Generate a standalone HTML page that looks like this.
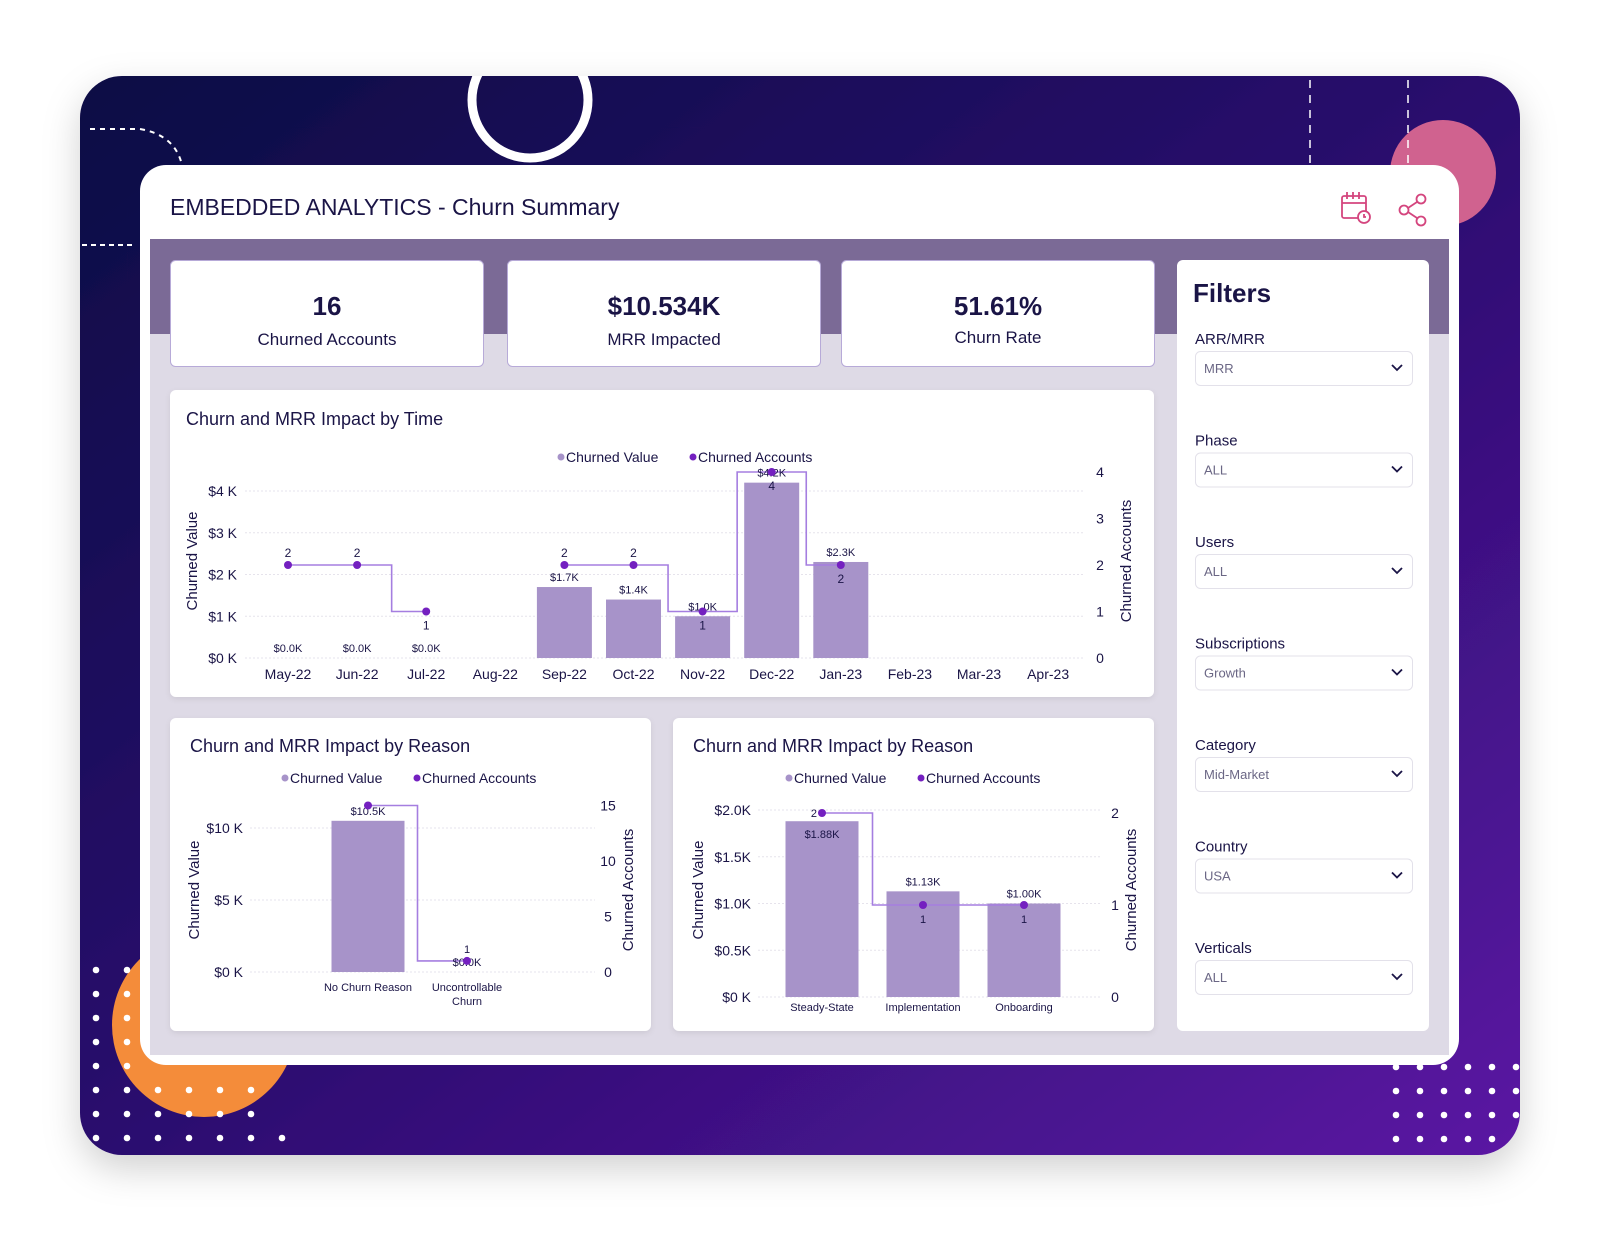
<!DOCTYPE html>
<html><head><meta charset="utf-8"><title>Churn Summary</title>
<style>
html,body{margin:0;padding:0;background:#fff;}
svg{display:block;font-family:"Liberation Sans",sans-serif;}
</style></head>
<body>
<svg id="root" width="1600" height="1240" viewBox="0 0 1600 1240" xmlns="http://www.w3.org/2000/svg">
<defs>
<linearGradient id="bg" x1="0" y1="0" x2="1" y2="1">
<stop offset="0" stop-color="#0b0744"/><stop offset="0.5" stop-color="#2a0d6e"/><stop offset="1" stop-color="#5b17a3"/>
</linearGradient>
<filter id="sh" x="-10%" y="-10%" width="120%" height="130%"><feDropShadow dx="0" dy="14" stdDeviation="18" flood-color="#000" flood-opacity="0.18"/></filter>
<filter id="sh2" x="-10%" y="-10%" width="120%" height="130%"><feDropShadow dx="0" dy="2" stdDeviation="3" flood-color="#000" flood-opacity="0.08"/></filter>
<clipPath id="bgclip"><rect x="80" y="76" width="1440" height="1079" rx="42"/></clipPath>
</defs>
<rect x="80" y="76" width="1440" height="1079" rx="42" fill="url(#bg)" filter="url(#sh)"/>
<g clip-path="url(#bgclip)">
<circle cx="204" cy="1025" r="92" fill="#f48c3a"/>
<circle cx="1443" cy="173" r="53" fill="#d0628f"/>
<circle cx="530" cy="100" r="58" fill="none" stroke="#fff" stroke-width="9"/>
<path d="M90 129 H140 Q175 135 182 165" fill="none" stroke="#fff" stroke-width="2" stroke-dasharray="5 5"/>
<path d="M82 245 H136" fill="none" stroke="#fff" stroke-width="2" stroke-dasharray="5 4"/>
<path d="M1310 80 V165 M1408 80 V165" fill="none" stroke="#fff" stroke-width="1.5" stroke-dasharray="8 7"/>
<g id="dots" fill="#fff"></g>
</g>
<rect x="140" y="165" width="1319" height="900" rx="26" fill="#fff"/>
<text x="170" y="215" font-size="23" fill="#1a1446">EMBEDDED ANALYTICS - Churn Summary</text>
<g fill="none" stroke="#d4457e" stroke-width="1.8">
<rect x="1342" y="196" width="24" height="22" rx="2"/><line x1="1342" y1="203" x2="1366" y2="203"/>
<line x1="1347" y1="192" x2="1347" y2="199"/><line x1="1353" y1="192" x2="1353" y2="199"/><line x1="1359" y1="192" x2="1359" y2="199"/>
<circle cx="1364" cy="217" r="6" fill="#fff"/><path d="M1364 214 V217 H1366"/>
</g>
<g fill="#fff" stroke="#d4457e" stroke-width="1.8">
<path d="M1420 200 L1405 210 L1420 220"/><circle cx="1421" cy="199" r="4.5"/><circle cx="1404" cy="210" r="4.5"/><circle cx="1421" cy="221" r="4.5"/>
</g>
<rect x="150" y="239" width="1299" height="816" fill="#dedae6"/>
<rect x="150" y="239" width="1299" height="95" fill="#7b6a96"/>

<g>
<rect x="170.5" y="260.5" width="313" height="106" rx="5" fill="#fff" stroke="#b7aad8"/>
<text x="327" y="315" font-size="26" font-weight="bold" fill="#1a1446" text-anchor="middle">16</text>
<text x="327" y="345" font-size="17" fill="#1a1446" text-anchor="middle">Churned Accounts</text></g>
<g>
<rect x="507.5" y="260.5" width="313" height="106" rx="5" fill="#fff" stroke="#b7aad8"/>
<text x="664" y="315" font-size="26" font-weight="bold" fill="#1a1446" text-anchor="middle">$10.534K</text>
<text x="664" y="345" font-size="17" fill="#1a1446" text-anchor="middle">MRR Impacted</text></g>
<g>
<rect x="841.5" y="260.5" width="313" height="106" rx="5" fill="#fff" stroke="#b7aad8"/>
<text x="998" y="315" font-size="26" font-weight="bold" fill="#1a1446" text-anchor="middle">51.61%</text>
<text x="998" y="343" font-size="17" fill="#1a1446" text-anchor="middle">Churn Rate</text></g>

<g id="filters">
<rect x="1177" y="260" width="252" height="771" rx="6" fill="#fff"/>
<text x="1193" y="302" font-size="26" font-weight="bold" fill="#1a1446">Filters</text>
</g>

<rect x="170" y="390" width="984" height="307" rx="6" fill="#fff" filter="url(#sh2)"/>
<text x="186" y="425" font-size="18" fill="#1a1446">Churn and MRR Impact by Time</text>
<g id="timeChart"></g>

<rect x="170" y="718" width="481" height="313" rx="6" fill="#fff" filter="url(#sh2)"/>
<text x="190" y="752" font-size="18" fill="#1a1446">Churn and MRR Impact by Reason</text>
<g id="reason1"></g>

<rect x="673" y="718" width="481" height="313" rx="6" fill="#fff" filter="url(#sh2)"/>
<text x="693" y="752" font-size="18" fill="#1a1446">Churn and MRR Impact by Reason</text>
<g id="reason2"></g>
</svg>
<script>
// ---- Time chart data ----
const timeCategories = ["May-22","Jun-22","Jul-22","Aug-22","Sep-22","Oct-22","Nov-22","Dec-22","Jan-23","Feb-23","Mar-23","Apr-23"];
const timeValues = [0,0,0,null,1.7,1.4,1.0,4.2,2.3,null,null,null];
const timeAccounts = [2,2,1,null,2,2,1,4,2,null,null,null];
const timeValueTicks = [0,1,2,3,4];
const timeValueTickLabels = ["$0 K","$1 K","$2 K","$3 K","$4 K"];
const timeAccountTicks = [0,1,2,3,4];
// ---- Reason chart 1 data ----
const reason1Categories = [["No Churn Reason"],["Uncontrollable","Churn"]];
const reason1Values = [10.5,0];
const reason1Accounts = [15,1];
const reason1ValueTicks = [0,5,10];
const reason1ValueTickLabels = ["$0 K","$5 K","$10 K"];
const reason1AccountTicks = [0,5,10,15];
// ---- Reason chart 2 data ----
const reason2Categories = [["Steady-State"],["Implementation"],["Onboarding"]];
const reason2Values = [1.88,1.13,1.00];
const reason2Accounts = [2,1,1];
const reason2ValueTicks = [0,0.5,1.0,1.5,2.0];
const reason2ValueTickLabels = ["$0 K","$0.5K","$1.0K","$1.5K","$2.0K"];
const reason2AccountTicks = [0,1,2];

const NS="http://www.w3.org/2000/svg";
function mk(parent,tag,attrs,txt){const e=document.createElementNS(NS,tag);for(const k in attrs)e.setAttribute(k,attrs[k]);if(txt!==undefined)e.textContent=txt;parent.appendChild(e);return e;}
const INK="#1a1446", BAR="#a793c9", LINE="#a57ee0", PT="#7420c0";

function drawChart(g,o){
  const xs=o.cats.map((c,i)=>o.xAt(i));
  o.vTicks.forEach((t,i)=>{
    const y=o.yL(t);
    const gl=mk(g,"line",{x1:o.gx0,x2:o.gx1,y1:y,y2:y,stroke:"#e6e3ec","stroke-dasharray":"2 2"});
    
    
    const tl=mk(g,"text",{x:o.lx,y:y+5,"font-size":o.tickFs,"text-anchor":"end",fill:INK},o.vLabels[i]);
    
    
  });
  o.aTicks.forEach(t=>{
    const tr=mk(g,"text",{x:o.rx,y:o.yR(t)+5,"font-size":o.tickFs,"text-anchor":"middle",fill:INK},String(t));
    
    
  });
  o.vals.forEach((v,i)=>{
    if(v===null)return;
    const y=o.yL(v), y0=o.yL(0);
    const b=mk(g,"rect",{x:xs[i]-o.bw/2,y:y,width:o.bw,height:Math.max(0,y0-y),fill:BAR});
    
    
  });
  let d="";
  for(let i=0;i<o.acc.length;i++){
    if(o.acc[i]===null)continue;
    const x=xs[i],y=o.yR(o.acc[i]);
    if(i===0||o.acc[i-1]===null){d+="M"+x+" "+y;}
    else{const m=(xs[i-1]+x)/2;d+=" H"+m+" V"+y+" H"+x;}
  }
  const ln=mk(g,"path",{d:d,fill:"none",stroke:LINE,"stroke-width":1.6});
  
  
  o.vals.forEach((v,i)=>{
    if(v===null)return;
    const inside=o.valInside&&o.valInside[i];
    const y=inside?o.yL(v)+17:o.yL(v)-6;
    const t=mk(g,"text",{x:xs[i],y:y,"font-size":o.lblFs,"text-anchor":"middle",fill:INK},"$"+v.toFixed(o.valDec)+"K");
    
    
  });
  o.acc.forEach((a,i)=>{
    if(a===null)return;
    const x=xs[i],y=o.yR(a);
    const p=mk(g,"circle",{cx:x,cy:y,r:4,fill:PT});
    
    
    const pos=o.accPos[i];
    if(pos==="none")return;
    let ax=x, ay=y-8, anc="middle";
    if(pos==="below")ay=y+18;
    if(pos==="left"){ax=x-5;ay=y+4;anc="end";}
    const t=mk(g,"text",{x:ax,y:ay,"font-size":o.accFs,"text-anchor":anc,fill:INK},String(a));
    
    
  });
  o.cats.forEach((c,i)=>{
    const lines=Array.isArray(c)?c:[c];
    lines.forEach((s,j)=>{
      const t=mk(g,"text",{x:xs[i],y:o.catY+j*14,"font-size":o.catFs,"text-anchor":"middle",fill:INK},s);
      
      
    });
  });
  const lt=mk(g,"text",{x:0,y:0,"font-size":15,"text-anchor":"middle",fill:INK,transform:"translate("+o.ltx+","+o.tty+") rotate(-90)"},"Churned Value");
  
  
  const rt=mk(g,"text",{x:0,y:0,"font-size":15,"text-anchor":"middle",fill:INK,transform:"translate("+o.rtx+","+o.tty+") rotate(-90)"},"Churned Accounts");
  
  
  const lg=mk(g,"g",{});
  
  
  const L=o.legX, Y=o.legY;
  mk(lg,"circle",{cx:L,cy:Y-4,r:3.5,fill:BAR});
  mk(lg,"text",{x:L+5,y:Y+1,"font-size":14,fill:INK},"Churned Value");
  mk(lg,"circle",{cx:L+132,cy:Y-4,r:3.5,fill:PT});
  mk(lg,"text",{x:L+137,y:Y+1,"font-size":14,fill:INK},"Churned Accounts");
}

drawChart(document.getElementById("timeChart"),{
  cats:timeCategories, vals:timeValues, acc:timeAccounts,
  vTicks:timeValueTicks, vLabels:timeValueTickLabels, aTicks:timeAccountTicks,
  xAt:i=>288+i*69.1, yL:v=>658-v*41.75, yR:a=>658-a*46.5,
  bw:55, gx0:245, gx1:1085, lx:237, rx:1100, tickFs:14, lblFs:11, accFs:12, catFs:14, catY:679, valDec:1,
  accPos:["above","above","below","none","above","above","below","below","below"],
  ltx:197, rtx:1131, tty:561, legX:561, legY:461
});
drawChart(document.getElementById("reason1"),{
  cats:reason1Categories, vals:reason1Values, acc:reason1Accounts,
  vTicks:reason1ValueTicks, vLabels:reason1ValueTickLabels, aTicks:reason1AccountTicks,
  xAt:i=>368+i*99, yL:v=>972-v*14.4, yR:a=>972-a*11.1,
  bw:73, gx0:250, gx1:595, lx:243, rx:608, tickFs:14, lblFs:11, accFs:11, catFs:11, catY:991, valDec:1,
  accPos:["none","above"],
  ltx:199, rtx:633, tty:890, legX:285, legY:782
});
drawChart(document.getElementById("reason2"),{
  cats:reason2Categories, vals:reason2Values, acc:reason2Accounts,
  vTicks:reason2ValueTicks, vLabels:reason2ValueTickLabels, aTicks:reason2AccountTicks,
  xAt:i=>822+i*101, yL:v=>997-v*93.5, yR:a=>997-a*92,
  bw:73, gx0:758, gx1:1100, lx:751, rx:1115, tickFs:14, lblFs:11, accFs:11, catFs:11, catY:1011, valDec:2,
  valInside:[true,false,false],
  accPos:["left","below","below"],
  ltx:703, rtx:1136, tty:890, legX:789, legY:782
});

const filterLabels=["ARR/MRR","Phase","Users","Subscriptions","Category","Country","Verticals"];
const filterValues=["MRR","ALL","ALL","Growth","Mid-Market","USA","ALL"];
const fg=document.getElementById("filters");
filterLabels.forEach((lab,i)=>{
  const y0=338+i*101.5;
  const t=mk(fg,"text",{x:1195,y:y0+6,"font-size":15,fill:INK},lab);
  
  
  const sel=mk(fg,"g",{});
  
  
  mk(sel,"rect",{x:1195.5,y:y0+13.5,width:217,height:34,rx:5,fill:"#fff",stroke:"#e3e1ea"});
  mk(sel,"text",{x:1204,y:y0+35,"font-size":13,fill:"#6b6785"},filterValues[i]);
  mk(sel,"path",{d:"M1392 "+(y0+27)+" l5 5 l5 -5",fill:"none",stroke:INK,"stroke-width":1.8});
});

const dg=document.getElementById("dots");
function dotGrid(x0,y0,cols,rows,dx,dy,skip){
  for(let r=0;r<rows;r++)for(let c=0;c<cols;c++){
    if(skip&&skip(r,c))continue;
    mk(dg,"circle",{cx:x0+c*dx,cy:y0+r*dy,r:3.3});
  }
}
dotGrid(96,970,7,8,31,24,(r,c)=>(c>1&&r<5)||(c>5&&r<7));
dotGrid(1396,1067,6,4,24,24);
</script>
</body></html>
